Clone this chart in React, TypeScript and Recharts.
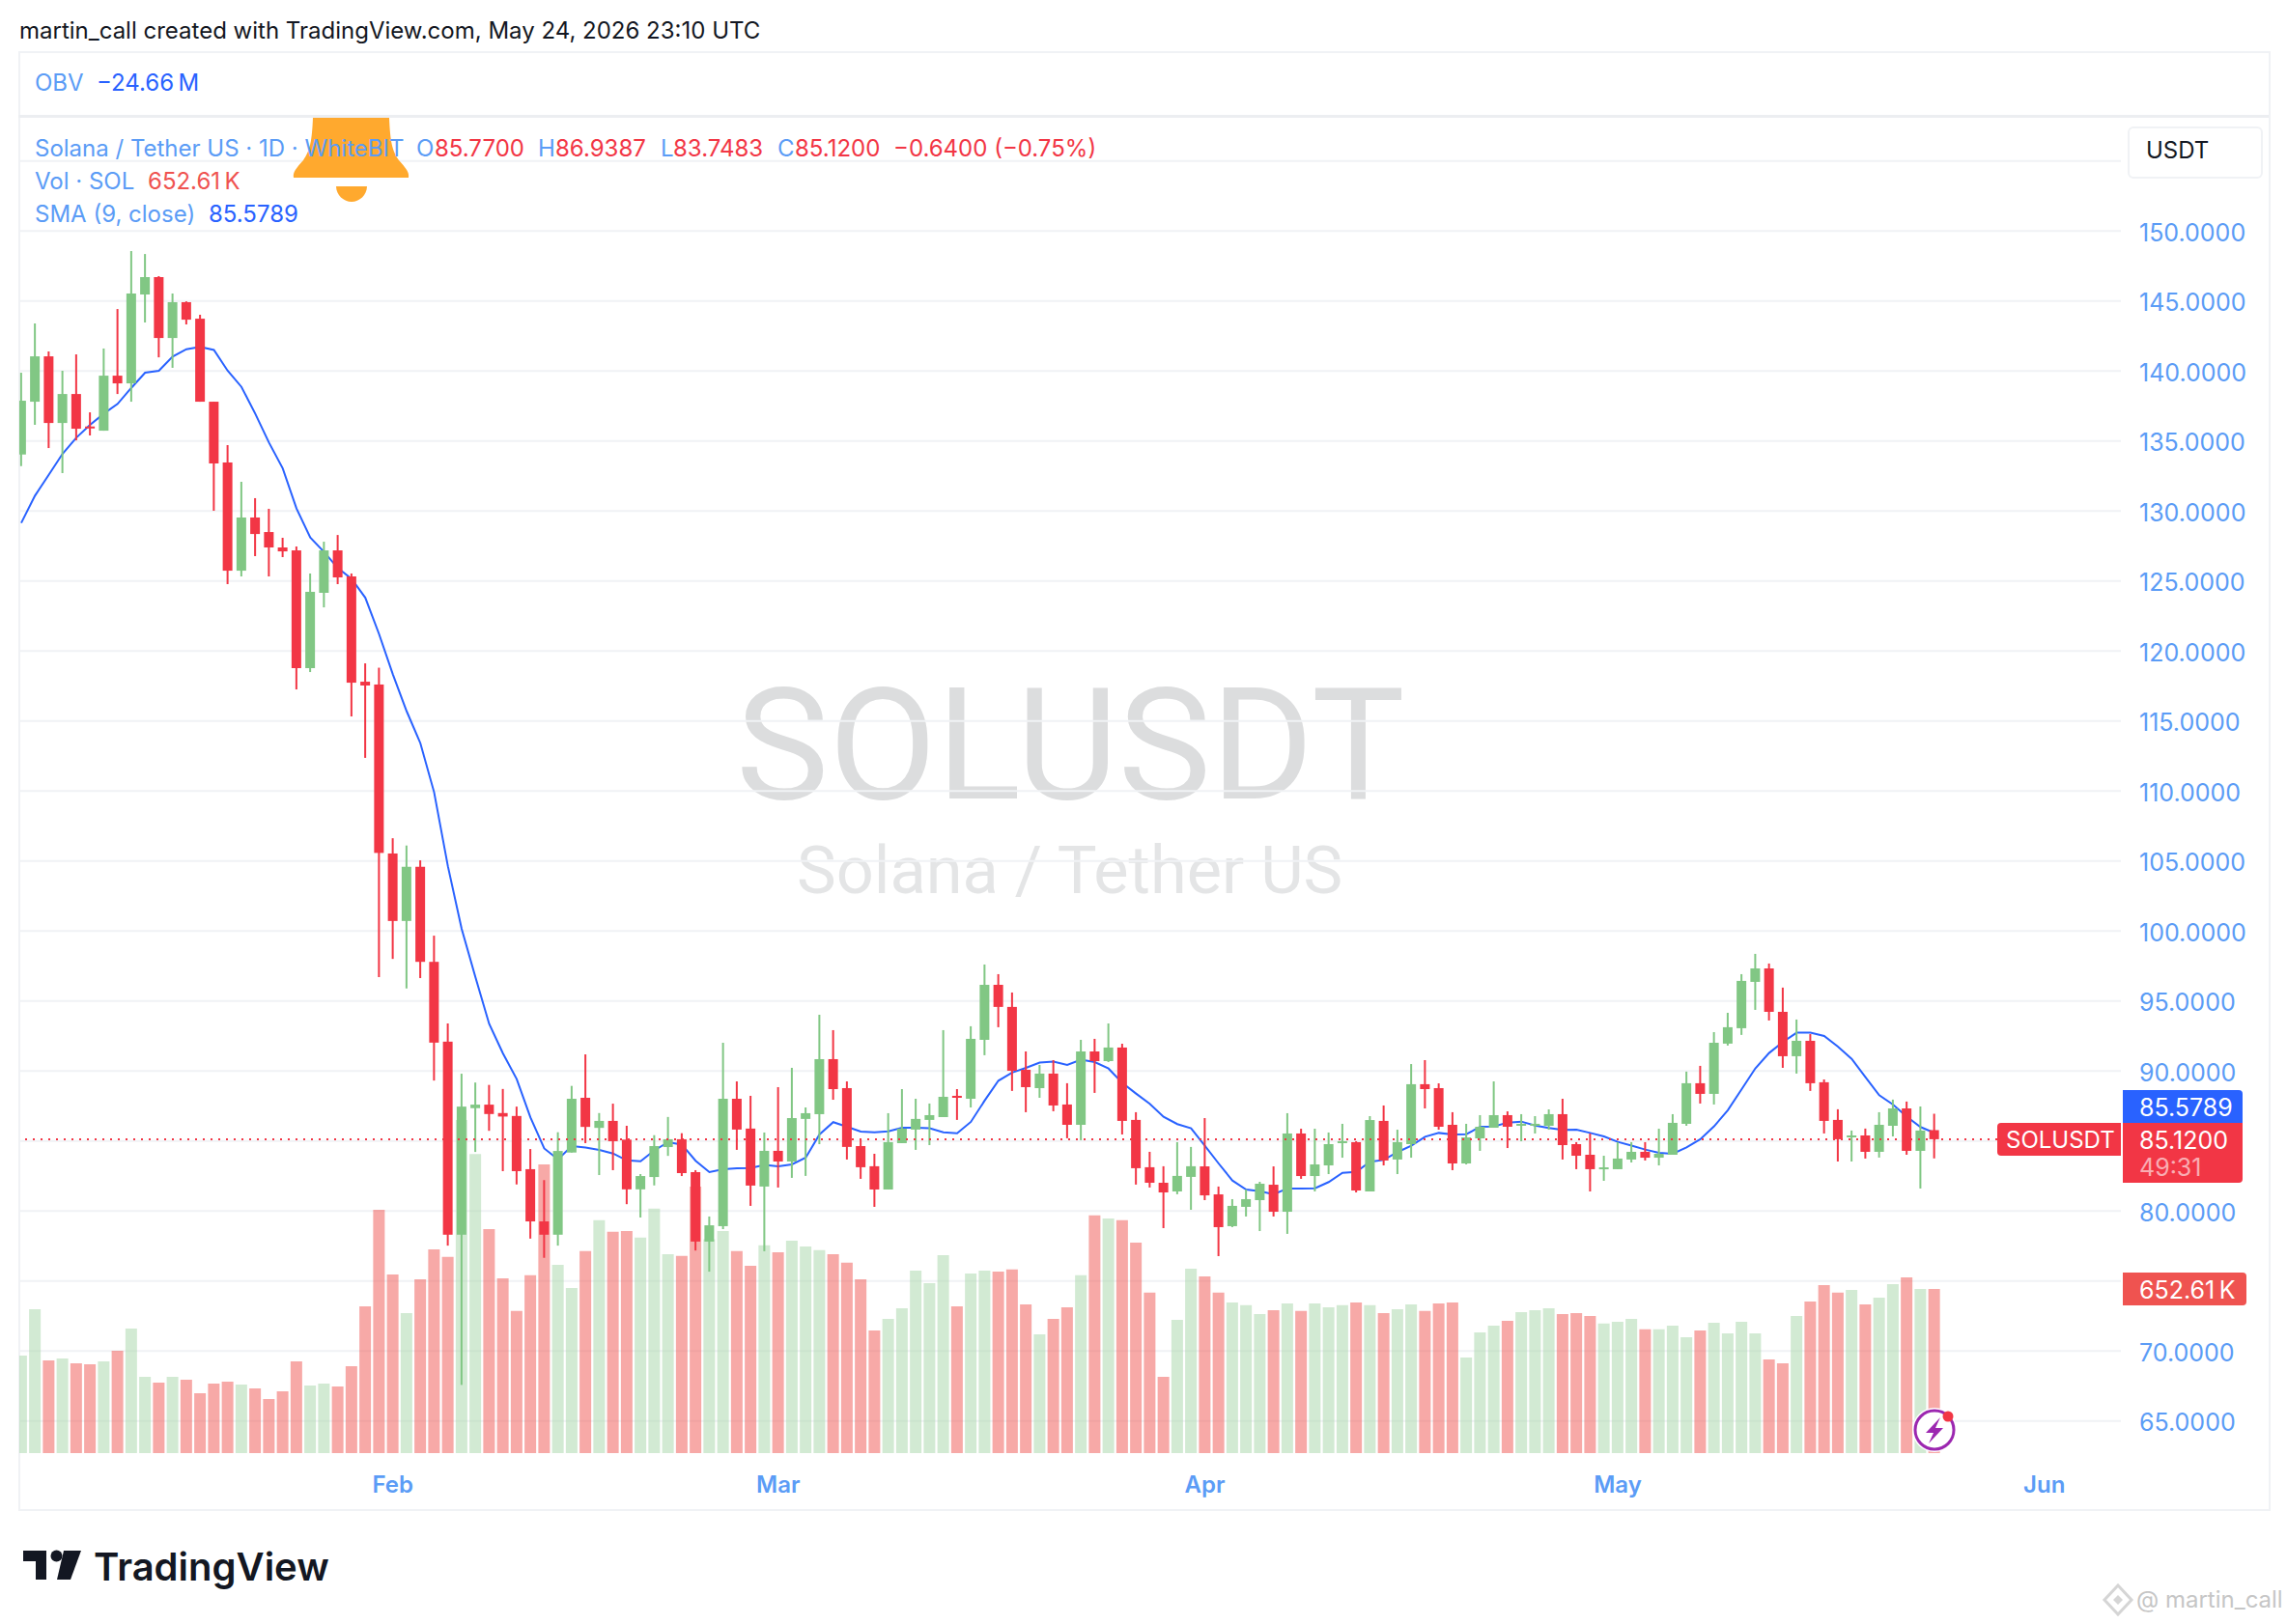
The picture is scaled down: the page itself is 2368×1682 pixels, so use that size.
import { Bar, CartesianGrid, Cell, ComposedChart, Line, ReferenceLine, XAxis, YAxis } from 'recharts';

// one value per day, Jan 5 to May 24
const opens = [
  134.03, 137.8, 141.04, 136.28, 138.35, 136.03, 135.73, 139.66, 139.11, 145.46,
  146.7, 142.35, 144.91, 143.73, 137.8, 133.46, 125.73, 129.53, 128.49, 127.39,
  127.18, 118.77, 124.15, 127.18, 125.32, 117.8, 117.6, 105.53, 100.71, 104.58,
  97.79, 92.09, 78.3, 87.34, 87.59, 86.99, 86.78, 82.98, 79.25, 78.3,
  84.17, 88.08, 85.93, 86.43, 85.09, 81.54, 82.42, 84.56, 85.12, 82.77,
  77.81, 78.91, 88.01, 85.88, 81.74, 84.29, 83.53, 86.57, 86.91, 90.84,
  88.77, 84.63, 83.19, 81.53, 84.84, 85.81, 86.5, 86.7, 88.22, 88.01,
  92.22, 96.15, 94.57, 90.08, 88.77, 89.81, 87.6, 86.15, 91.39, 90.7,
  91.67, 86.5, 83.12, 82.01, 81.39, 82.43, 83.18, 81.18, 78.91, 80.29,
  80.77, 81.87, 79.94, 85.53, 82.49, 83.25, 84.84, 84.91, 81.39, 86.43,
  83.67, 84.77, 89.05, 88.77, 86.15, 83.39, 85.18, 85.94, 86.84, 86.08,
  86.08, 86.08, 86.91, 84.77, 84.01, 82.98, 82.98, 83.67, 84.22, 83.8,
  84.01, 86.22, 89.12, 88.36, 91.95, 93.05, 96.36, 97.32, 94.22, 91.05,
  92.15, 89.19, 86.5, 85.26, 85.39, 84.22, 86.08, 87.32, 84.29, 85.77,
];
const highs = [
  139.87, 143.39, 141.39, 140.01, 141.18, 137.04, 141.6, 144.42, 148.56, 148.35,
  146.77, 145.53, 144.97, 144.01, 137.8, 134.7, 132.08, 130.91, 130.15, 128.08,
  127.46, 125.53, 127.8, 128.28, 125.53, 119.11, 118.8, 106.62, 106.1, 105.04,
  99.66, 93.39, 89.8, 89.17, 89.0, 88.71, 87.45, 84.42, 82.2, 85.62,
  88.93, 91.18, 86.99, 87.66, 86.08, 82.63, 85.41, 86.71, 85.55, 82.91,
  79.6, 92.01, 89.25, 88.22, 85.6, 88.84, 90.22, 87.39, 94.01, 92.91,
  89.25, 85.05, 84.08, 86.98, 88.7, 88.01, 87.67, 92.91, 88.7, 93.19,
  97.6, 96.91, 95.6, 91.39, 90.43, 90.77, 89.12, 92.22, 92.29, 93.39,
  91.94, 87.05, 84.22, 83.19, 84.91, 84.57, 86.63, 81.74, 80.84, 81.53,
  82.08, 83.18, 86.98, 85.87, 85.87, 85.6, 86.22, 84.98, 86.77, 87.53,
  85.8, 90.49, 90.77, 89.11, 87.05, 86.22, 86.84, 89.25, 87.11, 86.91,
  86.77, 87.25, 88.01, 84.91, 85.53, 83.94, 84.91, 84.91, 84.91, 85.87,
  86.91, 89.95, 90.36, 92.77, 94.15, 96.91, 98.36, 97.67, 95.95, 93.67,
  92.63, 89.39, 87.26, 85.74, 85.88, 87.05, 87.95, 87.81, 87.46, 86.94,
];
const lows = [
  133.2, 136.15, 134.49, 132.7, 135.04, 135.39, 135.73, 138.35, 137.8, 143.46,
  140.97, 140.22, 143.32, 137.8, 130.01, 124.77, 125.32, 126.77, 125.32, 126.7,
  117.25, 118.49, 123.11, 124.77, 115.32, 112.36, 96.7, 98.0, 95.89, 96.63,
  89.31, 77.52, 67.57, 84.21, 85.72, 82.84, 81.89, 78.02, 76.65, 77.52,
  84.17, 84.84, 82.56, 82.91, 80.48, 79.53, 81.82, 83.93, 82.49, 77.17,
  75.66, 78.7, 84.36, 80.36, 77.12, 81.67, 82.36, 82.5, 84.77, 87.94,
  83.67, 82.29, 80.29, 81.53, 84.84, 84.36, 84.7, 86.7, 86.5, 87.39,
  91.12, 93.12, 88.57, 87.05, 88.08, 87.12, 85.19, 85.05, 88.43, 90.63,
  85.46, 81.88, 81.67, 78.77, 81.19, 80.08, 80.77, 76.77, 78.84, 79.6,
  78.56, 79.6, 78.36, 82.29, 81.39, 82.63, 83.8, 81.32, 81.39, 83.25,
  82.63, 83.8, 87.32, 85.8, 82.91, 83.32, 84.29, 85.94, 84.49, 84.98,
  85.53, 85.8, 83.67, 82.98, 81.39, 82.15, 82.98, 83.46, 83.6, 83.25,
  84.01, 86.08, 87.67, 87.6, 91.81, 92.57, 94.36, 93.6, 90.22, 89.81,
  88.57, 85.53, 83.53, 83.53, 83.74, 83.81, 85.32, 84.01, 81.6, 83.75,
];
const closes = [
  137.87, 141.04, 136.28, 138.35, 135.87, 135.89, 139.66, 139.11, 145.53, 146.7,
  142.35, 144.91, 143.66, 137.8, 133.39, 125.73, 129.53, 128.35, 127.39, 127.11,
  118.77, 124.22, 127.18, 125.25, 117.73, 117.53, 105.57, 100.71, 104.58, 97.79,
  92.02, 78.3, 87.45, 87.59, 86.92, 86.74, 82.84, 79.25, 78.3, 84.28,
  88.01, 86.0, 86.43, 84.98, 81.54, 82.49, 84.63, 85.12, 82.7, 77.81,
  78.97, 88.01, 85.81, 81.81, 84.29, 83.53, 86.63, 86.98, 90.84, 88.7,
  84.57, 83.12, 81.53, 84.91, 85.88, 86.57, 86.84, 88.15, 88.08, 92.29,
  96.15, 94.57, 90.01, 88.84, 89.81, 87.53, 86.15, 91.39, 90.7, 91.67,
  86.43, 83.05, 82.01, 81.32, 82.5, 83.19, 81.11, 78.84, 80.36, 80.84,
  81.94, 79.94, 85.53, 82.49, 83.32, 84.77, 84.98, 81.46, 86.49, 83.6,
  84.91, 89.05, 88.7, 86.01, 83.39, 85.25, 86.01, 86.84, 86.01, 86.22,
  86.22, 86.91, 84.7, 83.94, 82.98, 83.11, 83.74, 84.22, 83.8, 84.08,
  86.29, 89.12, 88.36, 92.01, 93.12, 96.43, 97.32, 94.22, 91.05, 92.15,
  89.12, 86.43, 85.12, 85.39, 84.22, 86.15, 87.32, 84.29, 85.74, 85.12,
];
const sma9 = [
  129.14, 131.09, 132.58, 134.08, 135.23, 136.15, 136.95, 137.64, 138.79, 139.87,
  140.01, 141.02, 141.55, 141.71, 141.5, 140.01, 138.86, 136.95, 134.88, 133.04,
  130.17, 128.1, 127.07, 125.92, 125.16, 123.8, 121.2, 118.33, 115.7, 113.41,
  109.9, 104.62, 100.15, 96.7, 93.36, 91.25, 89.42, 86.67, 84.46, 83.68,
  84.63, 84.53, 84.35, 84.1, 83.61, 83.54, 84.32, 84.91, 84.74, 83.58,
  82.77, 82.98, 83.05, 83.07, 83.28, 83.19, 83.32, 83.81, 85.46, 86.34,
  86.01, 85.67, 85.62, 85.69, 85.94, 85.94, 85.9, 85.62, 85.55, 86.36,
  87.88, 89.3, 89.88, 90.22, 90.59, 90.66, 90.43, 90.8, 90.63, 90.17,
  89.14, 88.38, 87.65, 86.72, 86.2, 85.9, 84.66, 83.39, 82.17, 81.53,
  81.41, 81.18, 81.6, 81.6, 81.62, 82.06, 82.72, 82.79, 83.51, 83.64,
  84.2, 84.66, 85.3, 85.57, 85.46, 85.48, 86.01, 86.03, 86.31, 86.38,
  86.1, 85.92, 85.78, 85.8, 85.57, 85.32, 84.93, 84.66, 84.38, 84.15,
  84.08, 84.54, 85.12, 86.04, 87.19, 88.68, 90.18, 91.28, 92.06, 92.73,
  92.73, 92.5, 91.74, 90.86, 89.55, 88.27, 87.6, 86.73, 85.99, 85.58,
];
// thousands of SOL
const volumes = [
  388, 572, 369, 376, 357, 353, 365, 407, 495, 303,
  280, 303, 292, 238, 276, 284, 273, 257, 215, 246,
  365, 269, 276, 265, 346, 584, 968, 710, 557, 691,
  810, 780, 1325, 1189, 891, 695, 565, 707, 1148, 749,
  657, 803, 926, 880, 883, 857, 972, 791, 784, 1060,
  850, 883, 803, 745, 826, 799, 845, 822, 807, 791,
  757, 691, 488, 534, 576, 726, 676, 787, 584, 714,
  726, 722, 730, 591, 472, 534, 580, 707, 945, 933,
  926, 837, 638, 303, 530, 733, 703, 638, 599, 588,
  553, 568, 595, 565, 595, 580, 588, 599, 588, 557,
  572, 591, 565, 595, 599, 380, 480, 507, 526, 561,
  568, 576, 553, 557, 545, 515, 522, 534, 492, 492,
  507, 461, 488, 518, 476, 522, 476, 372, 357, 545,
  603, 668, 638, 649, 591, 618, 672, 699, 653, 652.61,
];

const monthTicks = [27, 55, 86, 116, 147];
const monthLabels = ['Feb', 'Mar', 'Apr', 'May', 'Jun'];
const priceTicks = [150, 145, 140, 135, 130, 125, 120, 115, 110, 105, 100, 95, 90, 80, 70, 65];
const gridPrices = [155, 150, 145, 140, 135, 130, 125, 120, 115, 110, 105, 100, 95, 90, 85, 80, 75, 70, 65];

const RED = '#f23645';
const GREEN = '#81c784';
const BLUE = '#2962ff';
const LABEL = '#5b9cf6';
const LINE = '#f0f2f5';
const FONT = 'Inter, sans-serif';

const rows = opens.map((open, idx) => ({
  idx,
  open,
  high: highs[idx],
  low: lows[idx],
  close: closes[idx],
  sma: sma9[idx],
  volume: volumes[idx],
}));

const xDomain = [-0.14, 152.56];

function Candle(props: any) {
  const { x, y, width, height, payload } = props;
  const top = Math.min(y, y + height);
  const k = Math.abs(height) / (payload.high - payload.low);
  const up = payload.close >= payload.open;
  const color = up ? GREEN : RED;
  const bodyTop = top + (payload.high - Math.max(payload.open, payload.close)) * k;
  const bodyH = Math.max(2, Math.abs(payload.open - payload.close) * k);
  return (
    <g>
      <rect x={x + width / 2 - 1} y={top} width={2} height={Math.abs(height)} fill={color} />
      <rect x={x} y={bodyTop} width={width} height={bodyH} fill={color} />
    </g>
  );
}

function Txt({ x, y, size = 24, color = LABEL, weight = 400, family = FONT, children }: any) {
  return (
    <div
      style={{
        position: 'absolute',
        left: x,
        top: y,
        transform: 'translateY(-50%)',
        fontFamily: family,
        fontSize: size,
        fontWeight: weight,
        color,
        lineHeight: 1,
        whiteSpace: 'nowrap',
      }}
    >
      {children}
    </div>
  );
}

function Tag({ x, y, w, h, color, radius }: any) {
  return <div style={{ position: 'absolute', left: x, top: y, width: w, height: h, background: color, borderRadius: radius }} />;
}

export default function App() {
  return (
    <div style={{ position: 'absolute', left: 0, top: 0, width: 2368, height: 1682, background: '#fff', overflow: 'hidden' }}>
      {/* frame */}
      <div style={{ position: 'absolute', left: 19, top: 53, width: 2328, height: 1508, border: `2px solid ${LINE}`, boxSizing: 'content-box' }} />
      <div style={{ position: 'absolute', left: 19, top: 119, width: 2330, height: 3, background: '#eceef1' }} />

      {/* watermark under the chart */}
      <Txt x={762} y={772} size={162} color="#dcddde" family="Roboto, sans-serif">SOLUSDT</Txt>
      <Txt x={825} y={902} size={68.5} color="#e4e5e6" family="Roboto, sans-serif">Solana / Tether US</Txt>

      <div style={{ position: 'absolute', left: 0, top: 0 }}>
        <ComposedChart
          width={2368}
          height={1682}
          data={rows}
          margin={{ top: 122, right: 0, bottom: 117, left: 20 }}
        >
          <CartesianGrid
            xAxisId="price"
            yAxisId="price"
            vertical={false}
            horizontalValues={gridPrices}
            stroke={LINE}
            strokeWidth={2}
          />
          <XAxis
            xAxisId="price"
            dataKey="idx"
            type="number"
            domain={xDomain}
            allowDataOverflow
            ticks={monthTicks}
            interval={0}
            height={60}
            axisLine={false}
            tickLine={false}
            tickMargin={18}
            tickFormatter={(v: number) => monthLabels[monthTicks.indexOf(v)]}
            tick={{ fill: LABEL, fontSize: 24, fontWeight: 600, fontFamily: FONT }}
          />
          <XAxis xAxisId="vol" dataKey="idx" type="number" domain={xDomain} allowDataOverflow hide />
          <YAxis
            yAxisId="price"
            orientation="right"
            width={172}
            domain={[62.7, 158.08]}
            allowDataOverflow
            ticks={priceTicks}
            interval={0}
            axisLine={false}
            tickLine={false}
            tickMargin={13}
            tickFormatter={(v: number) => v.toFixed(4)}
            tick={{ fill: LABEL, fontSize: 25, fontFamily: FONT, dy: 1.5 }}
          />
          <YAxis yAxisId="vol" hide domain={[0, 5310]} allowDataOverflow />
          <Bar xAxisId="vol" yAxisId="vol" dataKey="volume" barSize={12} isAnimationActive={false} zIndex={100}>
            {rows.map((r) => (
              <Cell key={r.idx} fill={r.close >= r.open ? '#a5d6a7' : '#ef5350'} fillOpacity={0.5} />
            ))}
          </Bar>
          <Line
            xAxisId="price"
            yAxisId="price"
            dataKey="sma"
            type="linear"
            stroke={BLUE}
            strokeWidth={2}
            dot={false}
            isAnimationActive={false}
            zIndex={150}
          />
          <Bar
            xAxisId="price"
            yAxisId="price"
            dataKey={(d: any) => [d.low, d.high]}
            barSize={10}
            shape={Candle}
            isAnimationActive={false}
            zIndex={300}
          />
          <ReferenceLine
            xAxisId="price"
            yAxisId="price"
            y={85.12}
            stroke={RED}
            strokeWidth={2}
            strokeDasharray="2 6"
            zIndex={350}
          />
        </ComposedChart>
      </div>

      {/* header */}
      <Txt x={20} y={32} size={24} color="#131722">martin_call created with TradingView.com, May 24, 2026 23:10 UTC</Txt>
      <Txt x={36} y={86}>OBV</Txt>
      <Txt x={100} y={86} color={BLUE}>−24.66{'\u202f'}M</Txt>

      {/* bell alert */}
      <svg style={{ position: 'absolute', left: 296, top: 120 }} width={136} height={92}>
        <path d="M28 2 L107 2 C108 26 110 36 117 46 C124 54 128 58 127 64 L8 64 C7 58 11 54 18 46 C25 36 27 26 28 2 Z" fill="#ffa92e" />
        <path d="M52 73 L84 73 C84 82 76 89 68 89 C60 89 52 82 52 73 Z" fill="#ffa92e" />
      </svg>

      {/* legend */}
      <Txt x={36} y={154}>Solana / Tether US · 1D · WhiteBIT</Txt>
      <Txt x={431} y={154}>O</Txt>
      <Txt x={450} y={154} color={RED}>85.7700</Txt>
      <Txt x={557} y={154}>H</Txt>
      <Txt x={575} y={154} color={RED}>86.9387</Txt>
      <Txt x={684} y={154}>L</Txt>
      <Txt x={697} y={154} color={RED}>83.7483</Txt>
      <Txt x={805} y={154}>C</Txt>
      <Txt x={823} y={154} color={RED}>85.1200</Txt>
      <Txt x={925} y={154} color={RED}>−0.6400 (−0.75%)</Txt>
      <Txt x={36} y={188}>Vol · SOL</Txt>
      <Txt x={153} y={188} color="#ef5350">652.61{'\u202f'}K</Txt>
      <Txt x={36} y={222}>SMA (9, close)</Txt>
      <Txt x={216} y={222} color={BLUE}>85.5789</Txt>

      {/* currency button */}
      <div style={{ position: 'absolute', left: 2203, top: 131, width: 136, height: 50, border: `2px solid ${LINE}`, borderRadius: 6, background: '#fff' }} />
      <Txt x={2222} y={156} color="#131722">USDT</Txt>

      {/* price scale labels */}
      <Tag x={2198} y={1129} w={124} h={34} color={BLUE} radius="0 4px 0 0" />
      <Tag x={2198} y={1163} w={124} h={62} color={RED} radius="0 0 4px 0" />
      <Tag x={2068} y={1163} w={128} h={34} color={RED} radius="4px 0 0 4px" />
      <Tag x={2198} y={1318} w={128} h={34} color="#ef5350" radius="0 4px 4px 0" />
      <Txt x={2215} y={1147} size={25} color="#fff">85.5789</Txt>
      <Txt x={2215} y={1181} size={25} color="#fff">85.1200</Txt>
      <Txt x={2215} y={1209} size={25} color="rgba(255,255,255,0.6)">49:31</Txt>
      <Txt x={2077} y={1181} color="#fff">SOLUSDT</Txt>
      <Txt x={2215} y={1336} size={25} color="#fff">652.61{'\u202f'}K</Txt>

      {/* lightning badge */}
      <svg style={{ position: 'absolute', left: 1975, top: 1453 }} width={56} height={56}>
        <circle cx={28} cy={28} r={23} fill="#fff" />
        <circle cx={28} cy={28} r={20} fill="rgba(255,255,255,0.6)" stroke="#9c27b0" strokeWidth={3} />
        <path d="M34 15 L19 31 L27 31 L22 42 L37 26 L29 26 Z" fill="#9c27b0" />
        <circle cx={42} cy={14} r={5.5} fill={RED} />
      </svg>

      {/* logo */}
      <svg style={{ position: 'absolute', left: 20, top: 1600 }} width={70} height={42}>
        <path d="M4 6 H28 V36 H17 V17 H4 Z" fill="#131722" />
        <circle cx={38.5} cy={11.5} r={6} fill="#131722" />
        <path d="M46 6 H64 L53 36 H39 Z" fill="#131722" />
      </svg>
      <Txt x={97} y={1623} size={40} color="#131722" weight={600}>TradingView</Txt>

      {/* author mark */}
      <svg style={{ position: 'absolute', left: 2176, top: 1640 }} width={34} height={34}>
        <path d="M17 2 L31 17 L17 32 L3 17 Z" fill="none" stroke="#d5d5d5" strokeWidth={3} />
        <path d="M17 12 L22 17 L17 22 L12 17 Z" fill="#d5d5d5" />
      </svg>
      <Txt x={2212} y={1657} size={24} color="#c6c6c6">@ martin_call</Txt>
    </div>
  );
}
